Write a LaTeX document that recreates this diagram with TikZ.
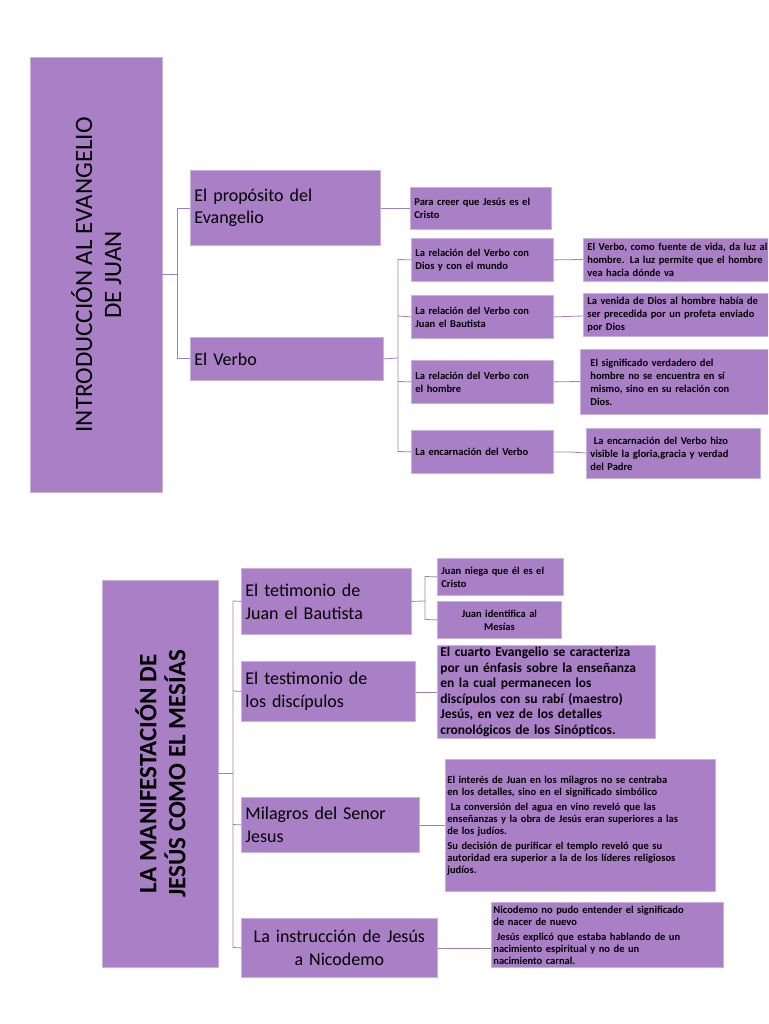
\documentclass[tikz,border=0pt]{standalone}
\usepackage{fontspec}
\setmainfont{Carlito}
\definecolor{pur}{HTML}{A97FC6}
\definecolor{edge}{HTML}{C9B3DA}
\begin{document}
\begin{tikzpicture}[x=1pt,y=-1pt,
 box/.style={fill=pur,draw=edge,line width=0.8pt,inner sep=3pt,align=left,font=\bfseries},
 ln/.style={draw=pur!80!gray,line width=0.8pt}]
\useasboundingbox (0,0) rectangle (768,1024);
\clip (0,0) rectangle (768,1024);
\newcommand\bx[6]{\node[box,minimum width=#3-#1,minimum height=#4-#2,text width=#3-#1-8,anchor=north west,#5] (#6) at (#1,#2) {};}
% titles
\node[box,minimum width=132,minimum height=435,anchor=north west] (t1) at (30,57) {};
\node[rotate=90,align=center,font=\fontsize{25}{29}\selectfont] at (t1.center) {INTRODUCCIÓN AL EVANGELIO\\DE JUAN};
\node[box,minimum width=116,minimum height=387,anchor=north west] (t2) at (102,580) {};
\node[rotate=90,align=center,font=\bfseries\fontsize{25}{29}\selectfont] at (t2.center) {LA MANIFESTACIÓN DE\\JESÚS COMO EL MESÍAS};
% level 1 part 1
\node[box,anchor=north west,minimum width=190,minimum height=75,text width=182,font=\fontsize{18}{22}\selectfont] (p) at (190,170) {El propósito del\\Evangelio};
\node[box,anchor=north west,minimum width=193,minimum height=43,text width=185,font=\fontsize{18}{22}\selectfont] (v) at (190,337) {El Verbo};
\node[box,anchor=north west,minimum width=141,minimum height=42,text width=133,font=\bfseries\fontsize{10.5}{13}\selectfont] (pc) at (410,187) {Para creer que Jesús es el\\Cristo};
\draw[ln] (t1.east|-v.west) ++(0,0) coordinate (a0);
\coordinate (b1) at (177,208);
\coordinate (b2) at (177,358);
\draw[ln] (162,274) -- (177,274);
\draw[ln] (p.west|-b1) -- (b1) -- (b2) -- (v.west|-b2);
\draw[ln] (p.east|-pc.west) -- (pc.west);
% Verbo children
\tikzset{small/.style={box,anchor=north west,minimum width=142,minimum height=43,text width=134,font=\bfseries\fontsize{10.5}{13}\selectfont}}
\node[small] (c1) at (411,238) {La relación del Verbo con\\Dios y con el mundo};
\node[small] (c2) at (411,295) {La relación del Verbo con\\Juan el Bautista};
\node[small] (c3) at (411,360) {La relación del Verbo con\\el hombre};
\node[small] (c4) at (411,430) {La encarnación del Verbo};
\draw[ln] (v.east) -- (398,358);
\draw[ln] (c1.west) -- (398,259.5) -- (398,451.5) -- (c4.west);
\draw[ln] (398,316) -- (c2.west);
\draw[ln] (398,381.5) -- (c3.west);
\tikzset{rb/.style={box,anchor=north west,minimum width=200,text width=192,font=\bfseries\fontsize{10.5}{13}\selectfont}}
\node[rb,minimum height=43] (d1) at (583,238) {El Verbo, como fuente de vida, da luz al\\hombre. La luz permite que el hombre\\vea hacia dónde va};
\node[rb,minimum height=43] (d2) at (583,293) {La venida de Dios al hombre había de\\ser precedida por un profeta  enviado\\por Dios};
\node[rb,minimum height=65,text width=180] (d3) at (580,349) {El significado verdadero del\\hombre no se encuentra en sí\\mismo, sino en su relación con\\Dios.};
\node[rb,minimum width=174,minimum height=50,text width=166] (d4) at (586,428) {\ La encarnación del Verbo hizo\\visible la gloria,gracia y verdad\\del Padre};
\draw[ln] (c1.east) -- (583,259.5);
\draw[ln] (c2.east) -- (583,316);
\draw[ln] (c3.east) -- (580,381.5);
\draw[ln] (c4.east) -- (570,452) -- (586,453);
% part 2
\tikzset{big/.style={box,anchor=north west,font=\fontsize{18}{23}\selectfont}}
\node[big,minimum width=170,minimum height=66,text width=162] (e1) at (241,568) {El tetimonio de\\Juan el Bautista};
\node[big,minimum width=174,minimum height=60,text width=166] (e2) at (241,661) {El testimonio de\\los discípulos};
\node[big,minimum width=178,minimum height=55,text width=170] (e3) at (241,797) {Milagros del Senor\\Jesus};
\node[big,minimum width=196,minimum height=59,text width=188,align=center] (e4) at (241,918) {La instrucción de Jesús\\a Nicodemo};
\draw[ln] (218,773) -- (233,773);
\draw[ln] (e1.west) -- (233,601) -- (233,947.5) -- (e4.west);
\draw[ln] (233,691) -- (e2.west);
\draw[ln] (233,824.5) -- (e3.west);
\node[small,minimum width=126,minimum height=37,text width=118] (f1) at (437,558) {Juan niega que él es el\\Cristo};
\node[small,minimum width=124,minimum height=37,text width=116,align=center] (f2) at (437,601) {Juan identifica al\\Mesías};
\draw[ln] (e1.east) -- (425,601);
\draw[ln] (f1.west) -- (425,576.5) -- (425,619.5) -- (f2.west);
\node[box,anchor=north west,minimum width=218,minimum height=92,text width=212,inner sep=2pt,font=\bfseries\fontsize{13.5}{15.5}\selectfont] (f3) at (437,645) {El cuarto Evangelio se caracteriza\\por un énfasis sobre la enseñanza\\en la cual permanecen los\\discípulos con su rabí (maestro)\\Jesús, en vez de los detalles\\cronológicos de los Sinópticos.};
\draw[ln] (e2.east|-f3.west) -- (f3.west);
\node[box,anchor=north west,minimum width=270,minimum height=132,text width=266,inner sep=2pt,font=\bfseries\fontsize{10.5}{15}\selectfont] (f4) at (445,759) {El interés de Juan en los milagros no se centraba\\[-3pt]en los detalles, sino en el significado simbólico\\\ La conversión del agua en vino reveló que las\\[-3pt]enseñanzas y la obra de Jesús eran superiores a las\\[-3pt]de los judíos.\\Su decisión de purificar el templo reveló que su\\[-3pt]autoridad era superior a la de los líderes religiosos\\[-3pt]judíos.};
\draw[ln] (e3.east) -- (f4.west|-e3.east);
\node[box,anchor=north west,minimum width=232,minimum height=65,text width=228,inner sep=2pt,font=\bfseries\fontsize{10.5}{15}\selectfont] (f5) at (491,902) {Nicodemo no pudo entender el significado\\[-3pt]de nacer de nuevo\\\ Jesús explicó que estaba hablando de un\\[-3pt]nacimiento espiritual y no de un\\[-3pt]nacimiento carnal.};
\draw[ln] (e4.east|-0,948) -- (f5.west|-0,948);
\end{tikzpicture}
\end{document}
